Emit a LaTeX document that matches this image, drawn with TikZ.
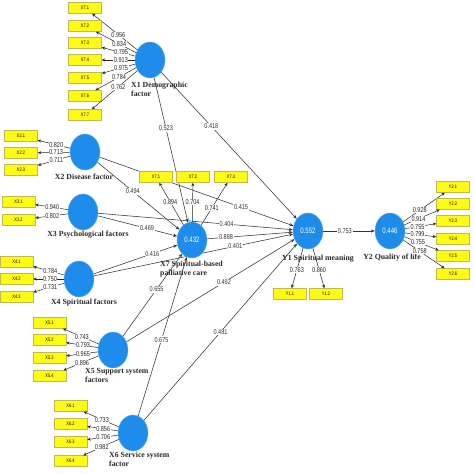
\documentclass[tikz,border=0pt]{standalone}
\usepackage{fontspec}
\setmainfont{Liberation Serif}
\newfontfamily\numfont[FakeStretch=0.78]{Liberation Sans}
\usetikzlibrary{arrows.meta,shapes.geometric,backgrounds}
\definecolor{lvblue}{RGB}{30,140,235}
\definecolor{indyellow}{RGB}{255,250,20}
\definecolor{indedge}{RGB}{190,185,80}
\definecolor{namegray}{RGB}{40,40,40}
\begin{document}
\begin{tikzpicture}[x=1pt, y=-1pt,
  lv/.style={ellipse, fill=lvblue, draw=lvblue!70!white, minimum width=30pt, minimum height=36pt, inner sep=0pt, text=white, font=\numfont\fontsize{7.8}{8}\selectfont},
  ind/.style={rectangle, fill=indyellow, draw=indedge, line width=0.45pt, minimum width=33pt, minimum height=11pt, inner sep=0pt, font=\numfont\fontsize{5}{5}\selectfont},
  lvname/.style={font=\bfseries\fontsize{7.8}{9}\selectfont, text=namegray, inner sep=0pt, align=left},
  load/.style={-{Stealth[length=3.5pt,width=3pt]}, black!85, line width=0.5pt},
  rel/.style={-{Stealth[length=4pt,width=3.2pt]}, black!80, line width=0.55pt},
  ldg/.style={fill=white, inner sep=0.5pt, pos=0.42, font=\numfont\fontsize{7.1}{7}\selectfont},
  coef/.style={fill=white, inner sep=0.8pt, font=\numfont\fontsize{7.1}{7}\selectfont}]
  \useasboundingbox (0,0) rectangle (474,474);
  % Latent variables
  \node[lv] (x1) at (150,60) {};
  \node[lv] (x2) at (85,152) {};
  \node[lv] (x3) at (83,212) {};
  \node[lv] (x4) at (79,279) {};
  \node[lv] (x5) at (113,350) {};
  \node[lv] (x6) at (133,433) {};
  \node[lv] (x7) at (192,240) {0.432};
  \node[lv] (y1) at (308,231) {0.552};
  \node[lv] (y2) at (390,231) {0.446};
  % Names
  \node[lvname, anchor=north west] (x1n) at (131,82) {X1 Demographic\\factor};
  \node[lvname] (x2n) at (84,177) {X2 Disease factor};
  \node[lvname] (x3n) at (88,235) {X3 Psychological factors};
  \node[lvname] (x4n) at (84,303) {X4 Spiritual factors};
  \node[lvname, anchor=north west] (x5n) at (85,368) {X5 Support system\\factors};
  \node[lvname, anchor=north west] (x6n) at (109,452) {X6 Service system\\factor};
  \node[lvname, anchor=north west] (x7n) at (160,261) {X7 Spiritual-based\\palliative care};
  \node[lvname] (y1n) at (318,259) {Y1 Spiritual meaning};
  \node[lvname] (y2n) at (392,258) {Y2 Quality of life};
  % Indicators and loadings
  \foreach \i/\y/\l in {1/8/0.956, 2/26/0.834, 3/43/0.795, 4/60/0.913, 5/78/0.975, 6/96/0.784, 7/115/0.762}
    {\node[ind] (x1i\i) at (85,\y) {X7.\i}; \draw[load] (x1) -- node[ldg]{\l} (x1i\i);}
  \foreach \i/\y/\l in {1/136/0.820, 2/153/0.713, 3/170/0.711}
    {\node[ind] (x2i\i) at (21,\y) {X2.\i}; \draw[load] (x2) -- node[ldg,pos=0.43]{\l} (x2i\i);}
  \foreach \i/\y/\l in {1/202/0.940, 2/220/0.802}
    {\node[ind] (x3i\i) at (18.5,\y) {X3.\i}; \draw[load] (x3) -- node[ldg,pos=0.48]{\l} (x3i\i);}
  \foreach \i/\y/\l in {1/262/0.784, 2/279/0.750, 3/297/0.731}
    {\node[ind] (x4i\i) at (16.5,\y) {X4.\i}; \draw[load] (x4) -- node[ldg,pos=0.45]{\l} (x4i\i);}
  \foreach \i/\y/\l in {1/323/0.743, 2/340/0.793, 3/358/0.965, 4/376/0.896}
    {\node[ind] (x5i\i) at (49.5,\y) {X5.\i}; \draw[load] (x5) -- node[ldg,pos=0.47]{\l} (x5i\i);}
  \foreach \i/\y/\l in {1/406/0.733, 2/424/0.856, 3/442/0.706, 4/461/0.982}
    {\node[ind] (x6i\i) at (70.5,\y) {X6.\i}; \draw[load] (x6) -- node[ldg,pos=0.48]{\l} (x6i\i);}
  \foreach \i/\x/\l/\p in {1/156/0.894/0.54, 2/193/0.704/0.51, 3/231/0.741/0.41}
    {\node[ind] (x7i\i) at (\x,177) {X7.\i}; \draw[load] (x7) -- node[ldg,pos=\p]{\l} (x7i\i);}
  \foreach \i/\x/\l in {1/290/0.763, 2/326/0.860}
    {\node[ind] (y1i\i) at (\x,294) {Y1.\i}; \draw[load] (y1) -- node[ldg,pos=0.54]{\l} (y1i\i);}
  \foreach \i/\y/\l in {1/187/0.928, 2/204/0.914, 3/221/0.755, 4/239/0.799, 5/256/0.755, 6/274/0.758}
    {\node[ind] (y2i\i) at (453,\y) {Y2.\i}; \draw[load] (y2) -- node[ldg,pos=0.4]{\l} (y2i\i);}
  % Structural paths
  \begin{pgfonlayer}{background}
    \draw[rel] (x1) -- node[coef,pos=0.35]{0.523} (x7);
    \draw[rel] (x1) -- node[coef,pos=0.37]{0.418} (y1);
    \draw[rel] (x2) -- node[coef,pos=0.43]{0.494} (x7);
    \draw[rel] (x2) -- node[coef,pos=0.73]{0.415} (y1);
    \draw[rel] (x3) -- node[coef,pos=0.62]{0.469} (x7);
    \draw[rel] (x3) -- node[coef,pos=0.66]{0.404} (y1);
    \draw[rel] (x4) -- node[coef,pos=0.70]{0.416} (x7);
    \draw[rel] (x4) -- node[coef,pos=0.71]{0.401} (y1);
    \draw[rel] (x5) -- node[coef,pos=0.57]{0.655} (x7);
    \draw[rel] (x5) -- node[coef,pos=0.58]{0.492} (y1);
    \draw[rel] (x6) -- node[coef,pos=0.48]{0.675} (x7);
    \draw[rel] (x6) -- node[coef,pos=0.50]{0.481} (y1);
    \draw[rel] (x7) -- node[coef,pos=0.22]{0.888} (y1);
    \draw[rel] (y1) -- node[coef,pos=0.42]{0.753} (y2);
  \end{pgfonlayer}
\end{tikzpicture}
\end{document}
